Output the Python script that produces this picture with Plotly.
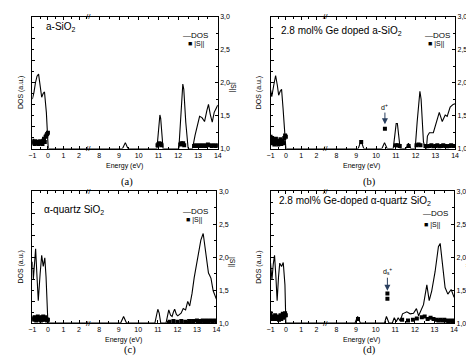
import plotly.graph_objects as go

# ------------------------------------------------------------------ data
# Energies in eV, DOS in arbitrary units, |S|| dimensionless
# (a) a-SiO2
a_dos_E = [-1.0, -0.9, -0.8, -0.7, -0.6, -0.5, -0.4, -0.3, -0.22, -0.1, -0.03, 0.02, 2.6,
           7.45, 9.18, 9.32, 9.45, 10.92, 10.98, 11.03, 11.07, 11.11, 11.17, 11.23,
           12.03, 12.12, 12.19, 12.23, 12.28, 12.38, 12.5, 12.72, 12.85, 13.0, 13.08,
           13.2, 13.33, 13.45, 13.53, 13.62, 13.72, 13.82, 13.92, 14.0]
a_dos = [0.75, 0.85, 1.0, 1.1, 1.13, 0.95, 0.78, 0.84, 0.86, 0.55, 0.2, 0.0, 0.0,
         0.0, 0.0, 0.09, 0.0, 0.0, 0.2, 0.46, 0.51, 0.46, 0.2, 0.0,
         0.0, 0.45, 0.92, 0.98, 0.9, 0.4, 0.0, 0.0, 0.2, 0.42, 0.49,
         0.47, 0.41, 0.58, 0.67, 0.52, 0.40, 0.55, 0.62, 0.66]
a_s_E = [-1.0, -0.95, -0.9, -0.85, -0.8, -0.75, -0.7, -0.65, -0.6, -0.55, -0.5, -0.45,
         -0.4, -0.35, -0.3, -0.25, -0.2, -0.15, -0.1, -0.05, 0.0,
         10.95, 11.0, 11.05, 11.1, 11.15, 12.1, 12.15, 12.2, 12.25, 12.3,
         12.8, 12.9, 13.0, 13.1, 13.2, 13.3, 13.4, 13.5, 13.6, 13.7, 13.8, 13.9, 14.0]
a_s = [1.12, 1.08, 1.10, 1.07, 1.11, 1.09, 1.08, 1.10, 1.07, 1.09, 1.11, 1.08,
       1.10, 1.07, 1.12, 1.15, 1.10, 1.18, 1.20, 1.22, 1.24,
       1.05, 1.07, 1.08, 1.07, 1.05, 1.06, 1.08, 1.07, 1.08, 1.05,
       1.04, 1.05, 1.04, 1.05, 1.04, 1.05, 1.04, 1.06, 1.05, 1.04, 1.05, 1.04, 1.05]

# (b) 2.8 mol% Ge doped a-SiO2
b_dos_E = [-1.0, -0.92, -0.8, -0.67, -0.55, -0.47, -0.37, -0.28, -0.18, -0.08, 0.0, 2.6,
           7.45, 9.1, 9.24, 9.38, 10.3, 10.43, 10.56, 10.87, 10.95, 11.02, 11.08, 11.15, 11.22,
           11.52, 11.64, 11.76, 11.98, 12.08, 12.18, 12.22, 12.28, 12.4, 12.5, 12.55,
           12.6, 12.7, 12.9, 13.1, 13.2, 13.35, 13.5, 13.6, 13.75, 13.9, 14.0]
b_dos = [0.89, 0.79, 0.95, 1.11, 0.95, 0.81, 0.87, 0.90, 0.6, 0.25, 0.0, 0.0,
         0.0, 0.0, 0.12, 0.0, 0.0, 0.09, 0.0, 0.0, 0.2, 0.38, 0.38, 0.2, 0.0,
         0.0, 0.08, 0.0, 0.0, 0.4, 0.85, 0.87, 0.75, 0.1, 0.0, 0.0,
         0.19, 0.24, 0.24, 0.44, 0.55, 0.41, 0.51, 0.49, 0.63, 0.67, 0.68]
b_s_E = [-1.0, -0.95, -0.9, -0.85, -0.8, -0.75, -0.7, -0.65, -0.6, -0.55, -0.5, -0.45,
         -0.4, -0.35, -0.3, -0.25, -0.2, -0.15, -0.1, -0.05, 0.0,
         9.25, 10.45, 11.0, 11.1, 11.2, 11.65, 12.05, 12.15, 12.25,
         12.5, 12.6, 12.7, 12.8, 12.9, 13.0, 13.1, 13.2, 13.3, 13.4, 13.5, 13.6, 13.7,
         13.8, 13.9, 14.0]
b_s = [1.18, 1.10, 1.16, 1.08, 1.12, 1.06, 1.10, 1.15, 1.08, 1.12, 1.06, 1.10,
       1.08, 1.14, 1.07, 1.10, 1.12, 1.08, 1.16, 1.20, 1.18,
       1.10, 1.30, 1.05, 1.05, 1.04, 1.04, 1.05, 1.06, 1.05,
       1.04, 1.03, 1.04, 1.05, 1.03, 1.04, 1.05, 1.03, 1.04, 1.05, 1.04, 1.03, 1.04,
       1.05, 1.04, 1.04]

# (c) alpha-quartz SiO2
c_dos_E = [-1.0, -0.94, -0.86, -0.79, -0.7, -0.62, -0.5, -0.4, -0.3, -0.2, -0.12, -0.05, 0.0, 2.6,
           7.45, 9.1, 9.25, 9.4, 10.85, 10.93, 11.0, 11.07, 11.15, 11.42, 11.5, 11.56, 11.65,
           11.73, 11.8, 11.86, 11.95, 12.02, 12.19, 12.3, 12.42, 12.53, 12.63, 12.75, 12.86,
           13.03, 13.2, 13.32, 13.46, 13.59, 13.66, 13.72, 13.83, 14.0]
c_dos = [0.93, 0.66, 0.9, 1.13, 0.7, 0.34, 0.75, 1.03, 0.86, 0.99, 0.7, 0.3, 0.0, 0.0,
         0.0, 0.0, 0.10, 0.0, 0.0, 0.15, 0.21, 0.15, 0.0, 0.0, 0.15, 0.2, 0.12,
         0.1, 0.17, 0.21, 0.13, 0.11, 0.15, 0.22, 0.2, 0.33, 0.26, 0.45, 0.69,
         0.98, 1.26, 1.36, 1.08, 0.76, 0.72, 0.68, 0.49, 0.36]
c_s_E = [-1.0, -0.95, -0.9, -0.85, -0.8, -0.75, -0.7, -0.65, -0.6, -0.55, -0.5, -0.45,
         -0.4, -0.35, -0.3, -0.25, -0.2, -0.15, -0.1, -0.05, 0.0,
         11.6, 11.8, 12.0, 12.2, 12.4, 12.6, 12.8, 13.0, 13.1, 13.2, 13.3, 13.4, 13.5,
         13.6, 13.7, 13.8, 13.9, 14.0]
c_s = [1.06, 1.08, 1.05, 1.09, 1.06, 1.04, 1.07, 1.10, 1.05, 1.08, 1.06, 1.04,
       1.09, 1.05, 1.10, 1.07, 1.05, 1.09, 1.06, 1.04, 1.05,
       1.02, 1.03, 1.02, 1.03, 1.02, 1.03, 1.03, 1.04, 1.03, 1.03, 1.04, 1.03, 1.04,
       1.03, 1.04, 1.03, 1.04, 1.03]

# (d) 2.8 mol% Ge-doped alpha-quartz SiO2
d_dos_E = [-1.0, -0.91, -0.82, -0.74, -0.65, -0.57, -0.48, -0.4, -0.28, -0.17, -0.06, 0.0, 2.6,
           7.45, 8.95, 9.08, 9.22, 10.45, 10.55, 10.68, 10.85, 10.95, 11.05, 11.15, 11.25,
           11.37, 11.59, 11.76, 11.93, 12.08, 12.19, 12.44, 12.61, 12.73, 12.86, 13.03,
           13.2, 13.29, 13.42, 13.54, 13.68, 13.85, 14.0]
d_dos = [0.91, 0.66, 0.9, 1.03, 0.7, 0.34, 0.7, 0.91, 0.86, 0.92, 0.58, 0.0, 0.0,
         0.0, 0.0, 0.10, 0.0, 0.0, 0.1, 0.0, 0.0, 0.08, 0.02, 0.08, 0.03,
         0.14, 0.17, 0.14, 0.15, 0.22, 0.11, 0.28, 0.58, 0.34, 0.49, 0.78,
         1.16, 1.21, 0.83, 0.54, 0.44, 0.51, 0.39]
d_s_E = [-1.0, -0.95, -0.9, -0.85, -0.8, -0.75, -0.7, -0.65, -0.6, -0.55, -0.5, -0.45,
         -0.4, -0.35, -0.3, -0.25, -0.2, -0.15, -0.1, -0.05, 0.0,
         9.1, 10.6, 10.6, 11.35, 11.65, 11.9, 12.1, 12.35, 12.5, 12.65, 12.8, 12.95,
         13.1, 13.2, 13.3, 13.4, 13.5, 13.6, 13.7, 13.8, 13.9, 14.0]
d_s = [1.15, 1.08, 1.06, 1.10, 1.07, 1.09, 1.12, 1.06, 1.08, 1.10, 1.07, 1.05,
       1.09, 1.12, 1.06, 1.10, 1.14, 1.08, 1.11, 1.15, 1.12,
       1.06, 1.45, 1.37, 1.05, 1.04, 1.05, 1.07, 1.09, 1.10, 1.06, 1.08, 1.06,
       1.05, 1.04, 1.05, 1.04, 1.05, 1.04, 1.03, 1.04, 1.03, 1.04]

titles = ["a-SiO<sub>2</sub>",
          "2.8 mol% Ge doped a-SiO<sub>2</sub>",
          "\u03b1-quartz SiO<sub>2</sub>",
          "2.8 mol% Ge-doped \u03b1-quartz SiO<sub>2</sub>"]
panel_labels = ["(a)", "(b)", "(c)", "(d)"]
left_ticks = [-1, 0, 1, 2]
right_ticks = [8, 9, 10, 11, 12, 13, 14]
s_tickvals = [1.0, 1.5, 2.0, 2.5, 3.0]
s_ticktext = ["1,0", "1,5", "2,0", "2,5", "3,0"]

series = [(a_dos_E, a_dos, a_s_E, a_s), (b_dos_E, b_dos, b_s_E, b_s),
          (c_dos_E, c_dos, c_s_E, c_s), (d_dos_E, d_dos, d_s_E, d_s)]

# ------------------------------------------------------------------ layout geometry (px)
W, H = 474, 356
geom = [dict(l=20.7, k=77.7, r=209.3, t=5.0, b=139.3),
        dict(l=263.0, k=319.0, r=450.7, t=5.0, b=139.3),
        dict(l=20.7, k=77.7, r=208.0, t=183.0, b=317.3),
        dict(l=263.0, k=319.0, r=449.7, t=183.0, b=317.3)]
title_pos = [(33, 15), (272, 19), (31, 202), (270, 193)]
legend_pos = [(172, 24, 177, 33), (418, 24, 421, 33), (172, 203, 175, 212), (416, 206, 417, 217)]
label_y = [173, 173, 345, 345]
label_x = [117, 364, 120, 364]

def xn(n): return "x" if n == 1 else f"x{n}"
def yn(n): return "y" if n == 1 else f"y{n}"
def xk(n): return "xaxis" if n == 1 else f"xaxis{n}"
def yk(n): return "yaxis" if n == 1 else f"yaxis{n}"

FONT = "Liberation Sans, Arial, sans-serif"
fig = go.Figure()
layout = dict(width=W, height=H, margin=dict(l=0, r=0, t=0, b=0),
              paper_bgcolor="white", plot_bgcolor="white", showlegend=False,
              font=dict(family=FONT, size=7, color="black"))
annotations = []

def px_x(v): return v / W
def px_y(v): return 1 - v / H

for p, (dE, dv, sE, sv) in enumerate(series):
    g = geom[p]
    xa, xb = 2 * p + 1, 2 * p + 2
    yl, yr = 2 * p + 1, 2 * p + 2
    for xx in (xa, xb):
        fig.add_trace(go.Scatter(x=dE, y=dv, mode="lines", name="DOS",
                                 line=dict(color="black", width=1.1),
                                 xaxis=xn(xx), yaxis=yn(yl)))
        fig.add_trace(go.Scatter(x=sE, y=sv, mode="markers", name="|S||",
                                 marker=dict(symbol="square", size=4, color="black"),
                                 xaxis=xn(xx), yaxis=yn(yr)))
    common_x = dict(showgrid=False, zeroline=False, showline=True, linecolor="black",
                    linewidth=1, mirror="ticks", ticks="inside", ticklen=3, tickwidth=1,
                    tickcolor="black", anchor=yn(yl), tickfont=dict(size=7),
                    minor=dict(ticks="inside", ticklen=2, dtick=0.5, tickcolor="black"))
    layout[xk(xa)] = dict(common_x, domain=[px_x(g["l"]), px_x(g["k"])], range=[-1, 2.6],
                          tickmode="array", tickvals=left_ticks)
    layout[xk(xb)] = dict(common_x, domain=[px_x(g["k"]), px_x(g["r"])], range=[7.45, 14],
                          tickmode="array", tickvals=right_ticks)
    layout[yk(yl)] = dict(domain=[px_y(g["b"]), px_y(g["t"])], range=[0, 2], anchor=xn(xa),
                          showgrid=False, zeroline=False, showline=True, linecolor="black",
                          ticks="inside", ticklen=3, tickcolor="black", showticklabels=False,
                          tick0=0, dtick=1 / 3,
                          minor=dict(ticks="inside", ticklen=2, dtick=1 / 6, tickcolor="black"))
    layout[yk(yr)] = dict(overlaying=yn(yl), side="right", anchor=xn(xb), range=[1, 3],
                          showgrid=False, zeroline=False, showline=True, linecolor="black",
                          ticks="inside", ticklen=3, tickcolor="black",
                          tickmode="array", tickvals=s_tickvals, ticktext=s_ticktext,
                          tickfont=dict(size=7),
                          minor=dict(ticks="inside", ticklen=2, dtick=0.25, tickcolor="black"))
    # break marks
    for yy in (g["t"], g["b"]):
        annotations.append(dict(xref="paper", yref="paper", x=px_x(g["k"]), y=px_y(yy),
                                text="//", showarrow=False, font=dict(size=8),
                                xanchor="center", yanchor="middle"))
    # axis titles
    annotations.append(dict(xref="paper", yref="paper", x=px_x((g["l"] + g["r"]) / 2 - 1),
                            y=px_y(g["b"] + 17.5), text="Energy (eV)", showarrow=False,
                            font=dict(size=7), xanchor="center", yanchor="middle"))
    annotations.append(dict(xref="paper", yref="paper", x=px_x(g["l"] - 12),
                            y=px_y((g["t"] + g["b"]) / 2 + 10), text="DOS (a.u.)",
                            showarrow=False, textangle=-90, font=dict(size=7),
                            xanchor="center", yanchor="middle"))
    annotations.append(dict(xref="paper", yref="paper", x=px_x(g["r"] + 16),
                            y=px_y((g["t"] + g["b"]) / 2 + 5), text="|S||",
                            showarrow=False, textangle=90, font=dict(size=7),
                            xanchor="center", yanchor="middle"))
    # panel label
    annotations.append(dict(xref="paper", yref="paper", x=px_x(label_x[p]),
                            y=px_y(label_y[p]), text=panel_labels[p], showarrow=False,
                            font=dict(size=10.5, family="Liberation Serif, Times New Roman, serif"),
                            xanchor="center", yanchor="middle"))
    # panel title
    tx, ty = title_pos[p]
    annotations.append(dict(xref="paper", yref="paper", x=px_x(tx), y=px_y(ty),
                            text=titles[p], showarrow=False, font=dict(size=10),
                            xanchor="left", yanchor="middle"))
    # legend
    lx1, ly1, lx2, ly2 = legend_pos[p]
    annotations.append(dict(xref="paper", yref="paper", x=px_x(lx1), y=px_y(ly1),
                            text="\u2014DOS", showarrow=False, font=dict(size=8),
                            xanchor="left", yanchor="middle"))
    annotations.append(dict(xref="paper", yref="paper", x=px_x(lx2), y=px_y(ly2),
                            text="\u25a0 |S||", showarrow=False, font=dict(size=7),
                            xanchor="left", yanchor="middle"))

# defect-level arrows
annotations.append(dict(xref="x4", yref="y4", axref="x4", ayref="y4",
                        x=10.45, y=1.37, ax=10.45, ay=1.63, text="d<sup>+</sup>",
                        showarrow=True, arrowhead=2, arrowsize=1.2, arrowwidth=1,
                        font=dict(size=7)))
annotations.append(dict(xref="x8", yref="y8", axref="x8", ayref="y8",
                        x=10.6, y=1.49, ax=10.6, ay=1.78, text="d<sub>s</sub><sup>+</sup>",
                        showarrow=True, arrowhead=2, arrowsize=1.2, arrowwidth=1,
                        font=dict(size=7)))

layout["annotations"] = annotations
fig.update_layout(**layout)
fig.write_html("out.html")
